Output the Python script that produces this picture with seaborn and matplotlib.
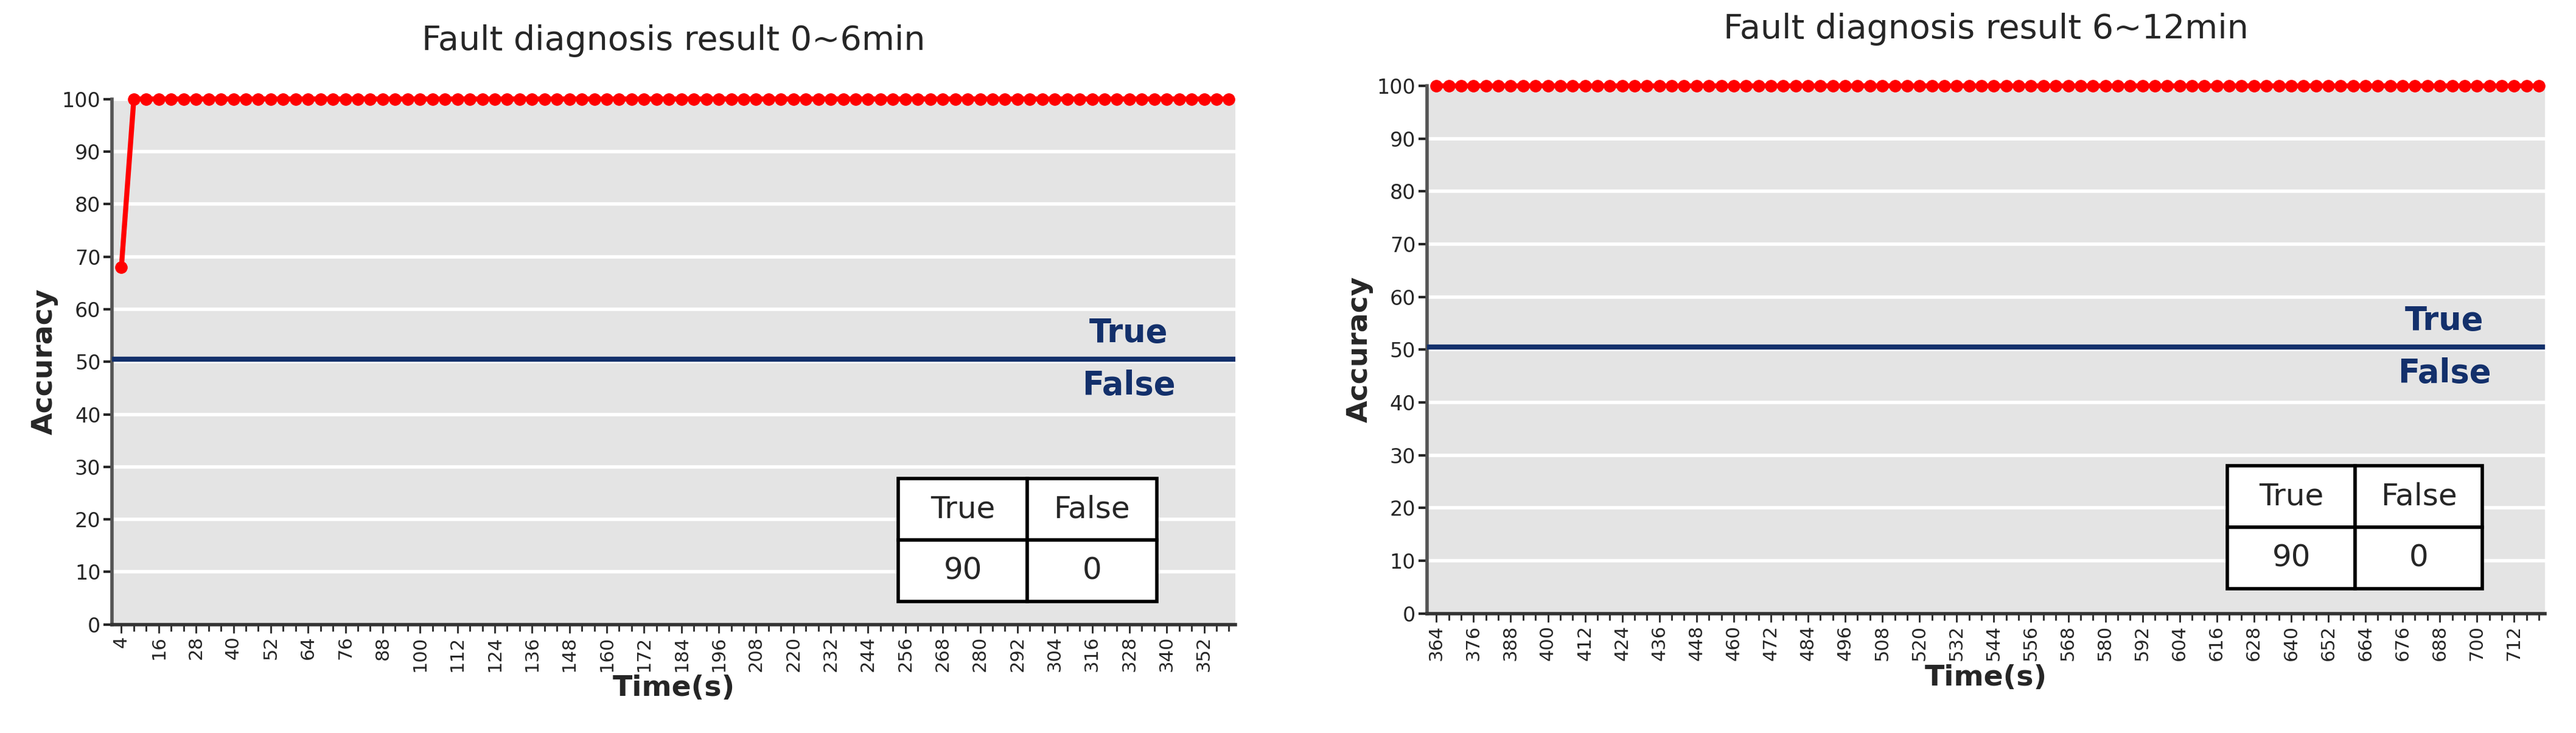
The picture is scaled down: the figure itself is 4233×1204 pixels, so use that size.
import numpy as np
import matplotlib
matplotlib.use("Agg")
import matplotlib.pyplot as plt
import seaborn as sns

sns.set_style("white")
plt.rcParams['font.family'] = ['Liberation Sans Narrow', 'DejaVu Sans']

time_a = list(range(4, 361, 4))
acc_a = [68] + [100] * 89
time_b = list(range(364, 721, 4))
acc_b = [100] * 90
ticks_a = list(range(4, 361, 12))
ticks_b = list(range(364, 721, 12))
titles = ["Fault diagnosis result 0~6min", "Fault diagnosis result 6~12min"]
table_cols = ["True", "False"]
table_vals = [["90", "0"], ["90", "0"]]
threshold = 50.5

fig = plt.figure(figsize=(42.33, 12.04), dpi=100)
axes = [fig.add_axes([0.0435, 0.148, 0.436, 0.717]),
        fig.add_axes([0.554, 0.163, 0.434, 0.720])]
datasets = [(time_a, acc_a, ticks_a), (time_b, acc_b, ticks_b)]
tpos = [(0.70, 0.044, 0.23, 0.234), (0.716, 0.047, 0.228, 0.233)]
title_y = [0.944, 0.96]
lbl_x = [0.905, 0.91]

for i, ax in enumerate(axes):
    t, a, tk = datasets[i]
    ax.set_facecolor('#e4e4e4')
    for yv in range(10, 101, 10):
        ax.axhline(yv, color='white', lw=4, zorder=0)
    sns.lineplot(x=t, y=a, ax=ax, color='red', lw=6, marker='o', markersize=14,
                 markeredgecolor='red', clip_on=False, zorder=5)
    ax.axhline(threshold, color='#13306b', lw=6, zorder=4)
    ax.set_xlim(t[0] - 3, t[-1] + 2)
    ax.set_ylim(0, 100)
    ax.set_yticks(range(0, 101, 10))
    ax.set_xticks(tk)
    ax.set_xticks(t, minor=True)
    ax.tick_params(axis='x', labelrotation=90, labelsize=22, length=10, width=2, direction='out')
    ax.tick_params(axis='x', which='minor', length=8, width=2)
    ax.tick_params(axis='y', labelsize=24, length=10, width=3, left=True)
    ax.tick_params(axis='x', bottom=True, which='both')
    for s in ['top', 'right']:
        ax.spines[s].set_visible(False)
    ax.spines['left'].set_color('#555555'); ax.spines['left'].set_linewidth(4)
    ax.spines['bottom'].set_color('#333333'); ax.spines['bottom'].set_linewidth(4)
    ax.set_xlabel("Time(s)", fontsize=34, fontweight='bold')
    ax.set_ylabel("Accuracy", fontsize=34, fontweight='bold')
    fig.text((ax.get_position().x0 + ax.get_position().x1) / 2, title_y[i], titles[i],
             ha='center', va='center', fontsize=40)
    ax.text(lbl_x[i], 0.555, "True", transform=ax.transAxes, ha='center', va='center',
            fontsize=38, color='#13306b', fontweight='bold')
    ax.text(lbl_x[i], 0.455, "False", transform=ax.transAxes, ha='center', va='center',
            fontsize=38, color='#13306b', fontweight='bold')
    tb = ax.table(cellText=[table_cols, table_vals[i]], cellLoc='center',
                  bbox=list(tpos[i]), zorder=10)
    tb.auto_set_font_size(False)
    for c in tb.get_celld().values():
        c.set_linewidth(4)
        c.set_facecolor('white')
        c.get_text().set_fontsize(36)

fig.savefig("out.png", dpi=100)
